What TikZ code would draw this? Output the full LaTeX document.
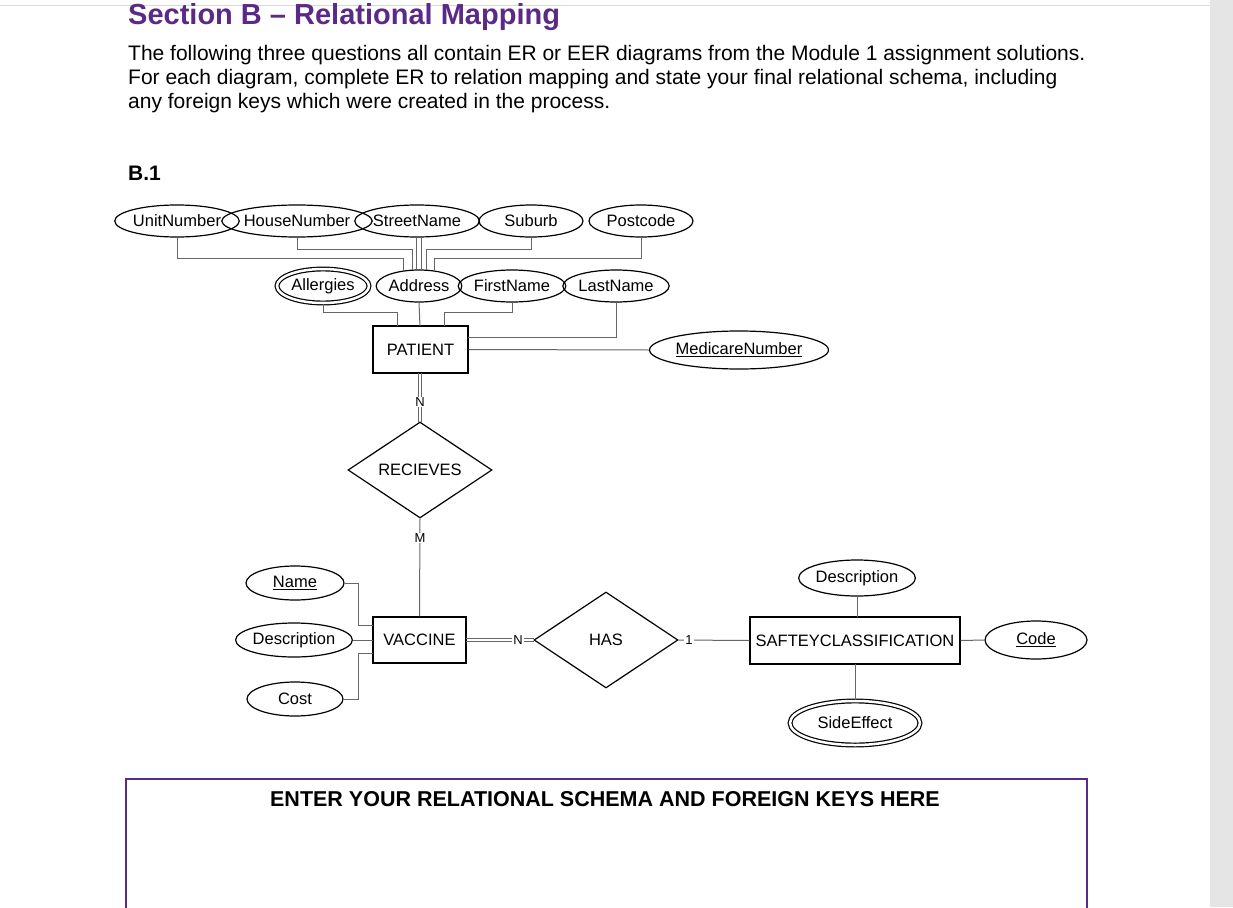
\documentclass[tikz,border=0pt]{standalone}
\usepackage{fontspec}
\setmainfont{Liberation Sans}
\usetikzlibrary{shapes.geometric}
\definecolor{purp}{HTML}{5B2A86}
\begin{document}
\begin{tikzpicture}[x=1pt,y=-1pt,
  attr/.style={ellipse,draw,line width=1.2pt,inner sep=0pt,minimum height=32pt,font=\fontsize{16.5}{18}\selectfont},
  mattr/.style={attr,double,double distance=2.5pt},
  ent/.style={rectangle,draw,line width=1.2pt,inner sep=0pt,font=\fontsize{16.5}{18}\selectfont},
  rel/.style={diamond,draw,line width=1.2pt,inner sep=0pt,aspect=1.5,minimum width=144pt,minimum height=96pt,font=\fontsize{16.5}{18}\selectfont},
  ln/.style={draw=black!60,line width=1pt},
  card/.style={fill=white,inner sep=1pt,font=\fontsize{13}{14}\selectfont}]
\useasboundingbox (0,0) rectangle (1233,907);
\fill[white] (0,0) rectangle (1233,907);
\fill[black!10] (1210,0) rectangle (1233,907);
\draw[black!15] (0,5) -- (1210,5);
% header
\node[anchor=base west,inner sep=0pt,text=purp,font=\fontsize{29}{32}\selectfont\bfseries] (title) at (128,25) {Section B – Relational Mapping};
\node[anchor=north west,align=left,inner sep=0pt,font=\fontsize{21}{24}\selectfont] (para) at (128,45) {The following three questions all contain ER or EER diagrams from the Module 1 assignment solutions.\\For each diagram, complete ER to relation mapping and state your final relational schema, including\\any foreign keys which were created in the process.};
\node[anchor=base west,inner sep=0pt,font=\fontsize{21}{24}\selectfont\bfseries] (b1) at (128,180) {B.1};
% top attributes
\node[attr,minimum width=104pt] (unit) at (177,221) {UnitNumber};
\node[attr,minimum width=124pt] (house) at (297,221) {HouseNumber};
\node[attr,minimum width=102pt] (street) at (417,221) {StreetName};
\node[attr,minimum width=104pt] (suburb) at (531,221) {Suburb};
\node[attr,minimum width=104pt] (post) at (641,221) {Postcode};
\node[mattr,minimum width=92pt,minimum height=34pt] (allerg) at (323,286) {Allergies};
\node[attr,minimum width=72pt] (addr) at (419,286) {Address};
\node[attr,minimum width=90pt] (first) at (512,286) {FirstName};
\node[attr,minimum width=90pt] (last) at (616,286) {LastName};
\node[ent,minimum width=95pt,minimum height=47pt] (patient) at (420.5,349.5) {PATIENT};
\node[attr,minimum width=154pt,minimum height=38pt] (medi) at (739,350) {\underline{MedicareNumber}};
\node[rel] (recv) at (420,470) {RECIEVES};
\node[ent,minimum width=93pt,minimum height=46pt] (vacc) at (419.5,640) {VACCINE};
\node[attr,minimum width=98pt,minimum height=34pt] (name) at (295,583) {\underline{Name}};
\node[attr,minimum width=94pt,minimum height=34pt] (vdesc) at (294,640) {Description};
\node[attr,minimum width=96pt,minimum height=34pt] (cost) at (295,699) {Cost};
\node[rel] (has) at (606,640) {HAS};
\node[ent,minimum width=210pt,minimum height=47pt] (safe) at (855,640.5) {SAFTEYCLASSIFICATION};
\node[attr,minimum width=104pt,minimum height=36pt] (sdesc) at (857,578) {Description};
\node[attr,minimum width=102pt,minimum height=38pt] (code) at (1036,640) {\underline{Code}};
\node[mattr,minimum width=130pt,minimum height=44pt] (side) at (855,723) {SideEffect};
% address connectors
\draw[ln] (unit.south) |- (403,258) -- (403,271);
\draw[ln] (house.south) |- (412,249) -- (412,270);
\draw[ln] (416,237) -- (416,270);
\draw[ln] (421,237) -- (421,270);
\draw[ln] (suburb.south) |- (426,249) -- (426,270);
\draw[ln] (post.south) |- (434,258) -- (434,271);
% patient connectors
\draw[ln] (allerg.south) |- (397,312) -- (397,326);
\draw[ln] (addr.south) -- (420,326);
\draw[ln] (first.south) |- (444,312) -- (444,326);
\draw[ln] (last.south) |- (468,337);
\draw[ln] (patient.east) -- (medi.west);
\draw[ln] (418.5,373) -- (418.5,423);
\draw[ln] (421.5,373) -- (421.5,423);
\node[card] (cn) at (420,402) {N};
\draw[ln] (recv.south) -- (vacc.north);
\node[card] (cm) at (420,538) {M};
% vaccine attrs
\draw[ln] (name.east) -| (358,625) -- (373,625);
\draw[ln] (vdesc.east) -- (373,640);
\draw[ln] (cost.east) -| (358,653) -- (373,653);
\draw[ln] (466,638.5) -- (534,638.5);
\draw[ln] (466,641.5) -- (534,641.5);
\node[card] (cn2) at (518,640) {N};
\draw[ln] (has.east) -- (safe.west);
\node[card] (c1) at (689,640) {1};
\draw[ln] (sdesc.south) -- (857,617);
\draw[ln] (safe.east) -- (code.west);
\draw[ln] (side.north) -- (855,664);
% answer box
\draw[purp,line width=1.2pt] (126,915) -- (126,779) -- (1087,779) -- (1087,915);
\node[font=\fontsize{21.5}{24}\selectfont\bfseries] (enter) at (605,799) {ENTER YOUR RELATIONAL SCHEMA AND FOREIGN KEYS HERE};
\end{tikzpicture}
\end{document}
